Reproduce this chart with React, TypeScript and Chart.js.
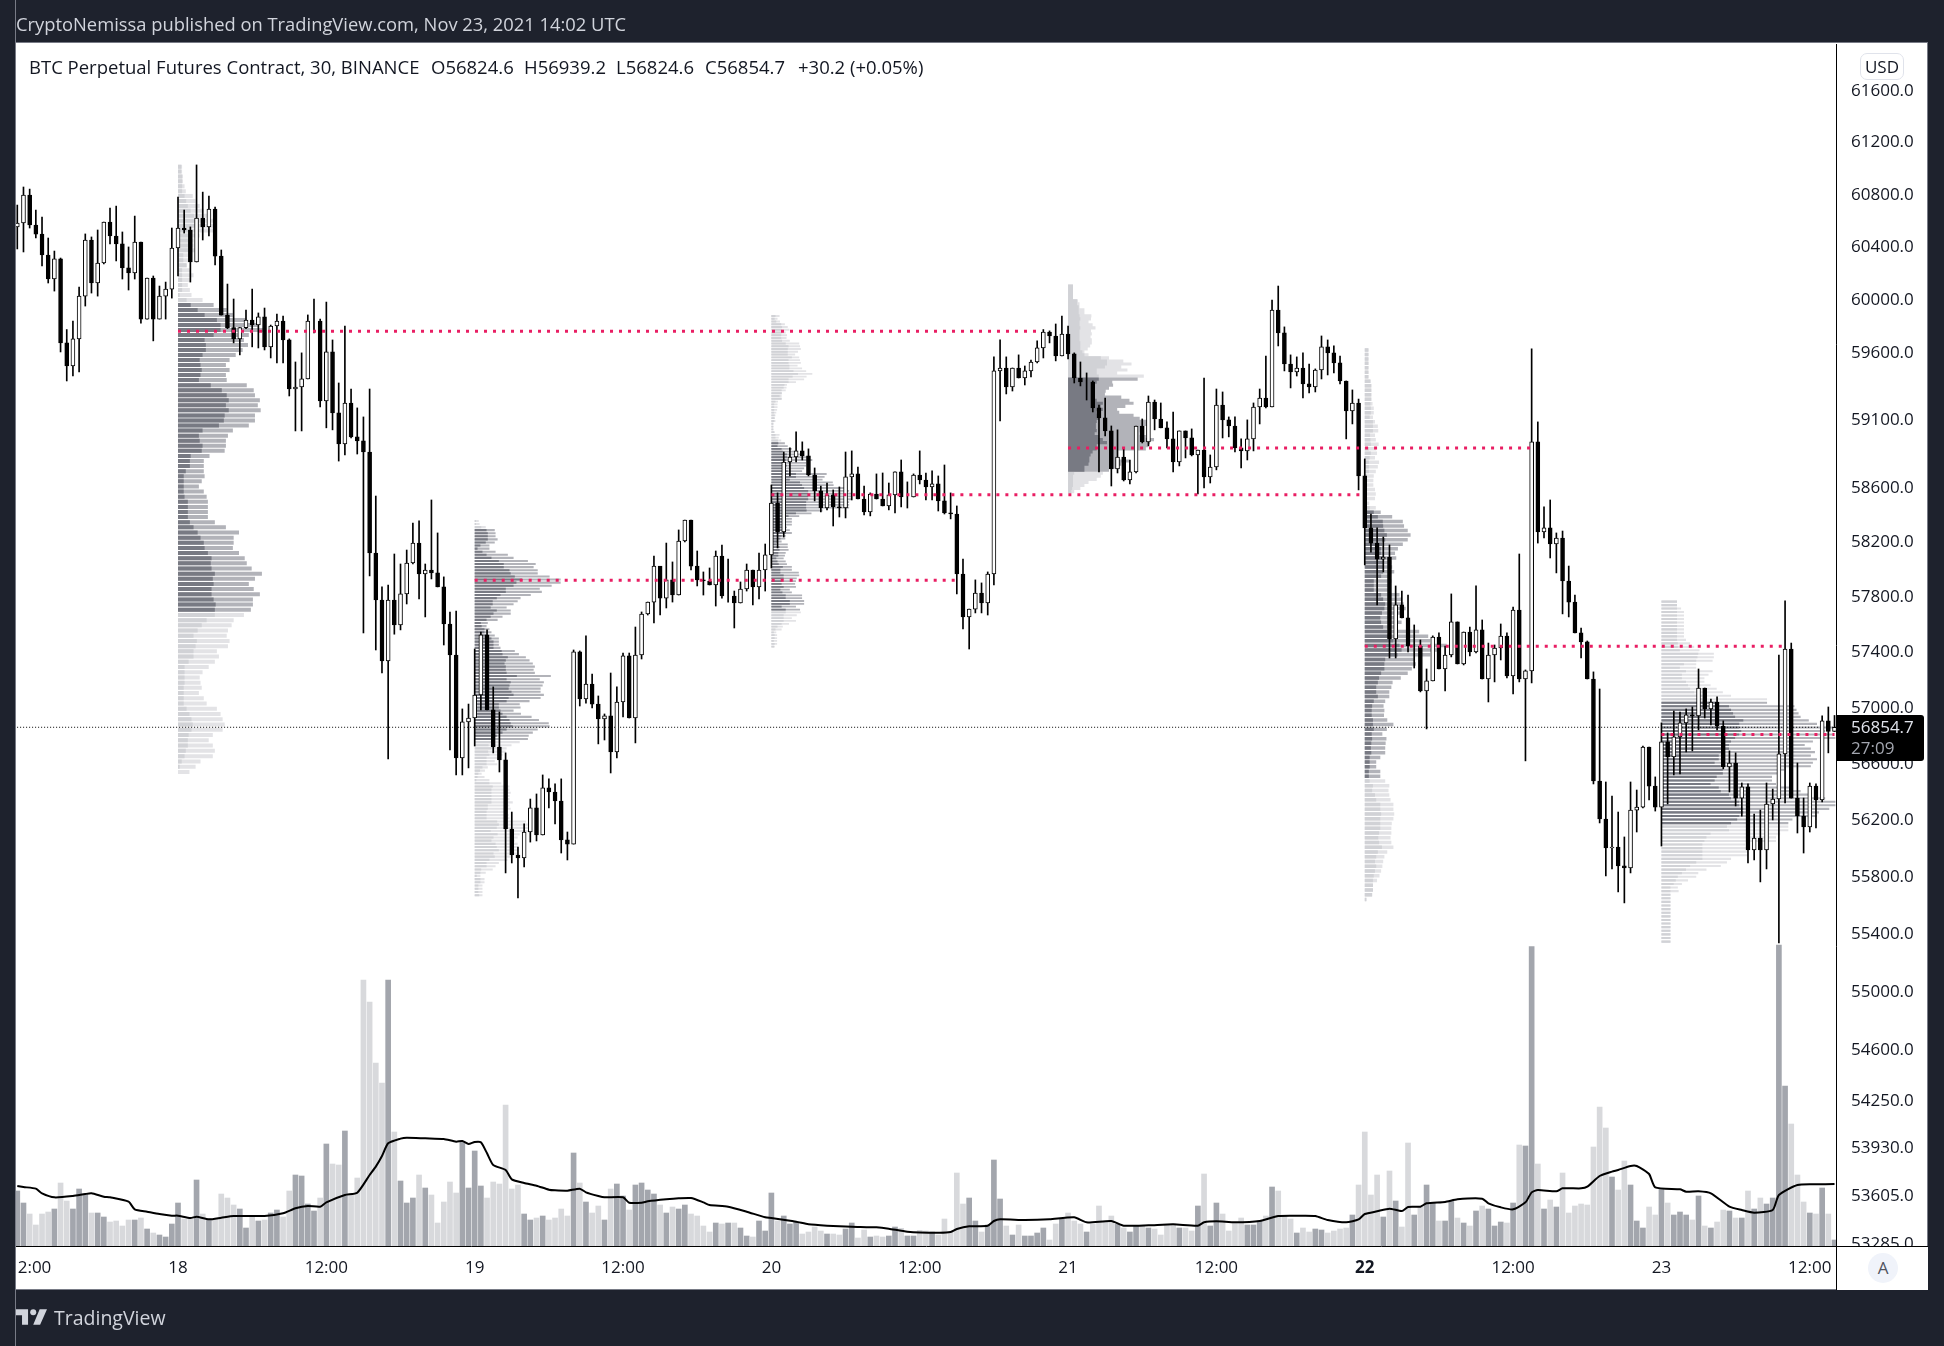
import React, { useEffect, useRef } from "react";
import { Chart, registerables } from "chart.js";
Chart.register(...registerables);

const FONT = '"Open Sans", sans-serif';

// bar index 0 is Nov 17 11:00 UTC, one bar every 30 minutes
const firstOpen = 60546;
const closes = [
60576,60789,60561,60492,60333,60151,60303,59670,59497,59700,
60022,60447,60121,60272,60584,60477,60417,60235,60197,60432,
59849,60159,59849,60022,60075,60386,60538,60523,60280,60614,
60546,60683,60325,59879,59785,59700,59785,59842,59804,59865,
59640,59797,59834,59692,59325,59340,59400,59834,59834,59236,
59602,59147,58917,59221,58969,58939,58857,58114,57772,57331,
57772,57591,57816,58041,58187,57961,57990,57969,57867,57598,
57374,56636,56893,56921,57086,57519,56979,56714,56622,56132,
55949,55928,56111,56281,56090,56423,56394,56330,56055,56026,
57396,57057,57165,57021,56914,56936,56679,57036,57367,56921,
57374,57670,57757,58019,57786,57918,57808,58202,58356,58019,
57918,57910,57881,58092,57801,57801,57750,57852,57990,57867,
57990,58100,58481,58268,58783,58820,58865,58828,58687,58570,
58444,58540,58452,58444,58673,58695,58510,58415,58547,58510,
58459,58540,58710,58525,58525,58687,58650,58599,58621,58496,
58408,58400,57961,57649,57706,57823,57750,57961,59460,59482,
59340,59482,59407,59460,59527,59632,59752,59722,59572,59737,
59587,59407,59377,59377,59184,59110,59013,58732,58820,58650,
58710,59050,58932,59228,59102,59036,58954,58783,59013,58961,
58835,58872,58673,58746,59206,59095,59050,58887,58865,58954,
59191,59258,59191,59917,59745,59512,59452,59482,59363,59340,
59467,59640,59595,59520,59385,59161,59221,58680,58298,58187,
58070,58085,57490,57736,57642,57439,57439,57115,57187,57504,
57273,57374,57613,57309,57540,57396,57555,57201,57374,57424,
57511,57223,57699,57201,57259,58932,58268,58298,58180,58224,
57910,57757,57533,57468,57201,56472,56203,55998,56005,55872,
55858,56266,56287,56714,56436,56287,56750,56643,56786,56886,
56943,56936,57136,56986,57036,56864,56572,56600,56351,56430,
55984,56069,55984,56309,56344,56665,57417,56351,56224,56147,
56436,56337,56900,56824.6,56854.7];
const highs = [
60713,60851,60835,60675,60622,60462,60363,60310,59770,59834,
60091,60493,60470,60523,60584,60690,60705,60508,60394,60629,
60432,60159,60174,60098,60128,60538,60774,60675,60546,61020,
60812,60782,60698,60371,60113,60000,59785,59917,60075,59895,
59932,59804,59887,59872,59700,59527,59595,59880,60000,59849,
59977,59692,59370,59797,59325,59184,59117,59325,58532,57867,
57881,58107,58034,58136,58334,58349,58034,58503,58261,57940,
57685,57692,56986,57021,57417,57540,57555,57144,56964,56672,
56252,56005,56168,56344,56380,56515,56487,56451,56487,56111,
57410,57403,57512,57237,57079,56950,57244,57144,57388,57388,
57576,57685,57757,58092,58005,58187,58049,58283,58356,58356,
58129,57976,58005,58129,58173,58070,57837,57903,58034,57990,
58114,58180,58613,58555,58857,58887,59006,58932,58880,58739,
58606,58628,58577,58599,58857,58865,58746,58606,58555,58695,
58702,58628,58710,58798,58636,58695,58865,58702,58717,58680,
58761,58555,58459,58070,57706,57918,57896,57976,59565,59692,
59565,59482,59580,59497,59542,59685,59770,59760,59812,59872,
59797,59595,59527,59445,59385,59206,59258,59050,59021,58880,
58798,59050,59102,59273,59243,59221,59080,59154,59013,59013,
59028,58872,59407,58835,59325,59303,59117,59117,58954,59095,
59221,59325,59572,59992,60098,59790,59580,59565,59595,59512,
59475,59722,59692,59647,59572,59385,59318,59250,58806,58400,
58298,58231,58173,57874,57837,57808,57591,57482,57273,57512,
57533,57439,57816,57613,57540,57576,57874,57627,57460,57446,
57598,57533,57721,58107,57266,59625,59080,58452,58503,58261,
58275,58019,57808,57569,57475,57252,57129,56465,56365,56252,
56076,56465,56408,56721,56714,56501,56886,56814,56971,56964,
56986,57000,57273,57136,57057,57072,56900,56686,56672,56458,
56451,56238,56266,56458,56415,57374,57765,57460,56600,56351,
56458,56451,56936,57000,56939.2];
const lows = [
60379,60356,60538,60462,60250,60121,60060,59602,59385,59422,
59452,59947,60045,60022,60265,60417,60288,60151,60068,60151,
59819,59849,59685,59849,59849,60007,60174,60500,60128,60280,
60447,60477,60257,59879,59777,59670,59580,59777,59640,59632,
59617,59557,59520,59520,59273,59013,59013,59400,59745,59191,
59036,59021,58790,58835,58961,58842,57533,57947,57410,57244,
56629,57524,57555,57743,58034,57779,57649,57925,57867,57446,
56693,56515,56515,56565,56721,56979,56979,56672,56536,55823,
55893,55648,55865,56040,56048,56090,56281,56168,55963,55914,
56026,57007,57028,56993,56736,56764,56529,56636,56929,56921,
56743,57345,57663,57605,57663,57714,57757,57808,58195,57990,
57874,57808,57881,57728,57786,57757,57569,57750,57837,57736,
57779,57837,58005,58151,58231,58680,58783,58798,58680,58496,
58415,58430,58312,58378,58371,58503,58510,58393,58386,58510,
58459,58430,58408,58452,58444,58525,58621,58503,58503,58422,
58400,58364,57816,57562,57417,57678,57678,57663,57881,59087,
59288,59310,59407,59355,59415,59520,59557,59670,59535,59572,
59550,59370,59348,59243,59154,58710,58976,58606,58702,58643,
58621,58702,58924,58902,59021,59036,58887,58710,58754,58813,
58828,58547,58592,58628,58725,58961,58969,58857,58739,58798,
58865,59065,59184,59191,59647,59460,59333,59422,59258,59295,
59303,59400,59430,59445,59363,58954,59065,58577,58027,58121,
57736,57976,57352,57352,57642,57396,57280,57108,56843,57187,
57273,57115,57360,57309,57302,57367,57388,57201,57036,57180,
57338,57208,57093,57180,56615,57173,58187,58224,58078,57969,
57671,57649,57533,57352,57201,56451,56175,55802,55851,55690,
55613,55823,56111,56281,56337,56259,56012,56309,56515,56522,
56679,56686,56836,56921,56871,56836,56558,56394,56295,56223,
55893,55914,55760,55851,56196,55334,56316,56351,56104,55963,
56111,56139,56323,56672,56824.6];
const volumes = [
165,129,96,63,96,102,111,189,135,111,
171,156,99,99,87,72,75,60,78,78,
84,51,39,33,27,66,129,81,81,198,
96,81,81,156,144,123,111,54,90,75,
78,99,108,87,165,213,210,126,105,144,
306,246,243,345,153,204,798,732,549,489,
798,342,195,129,144,213,174,153,69,132,
192,159,312,174,285,180,144,192,186,423,
171,183,96,78,84,90,78,84,111,90,
279,189,132,99,120,78,171,186,150,108,
183,189,168,156,123,99,117,111,123,96,
90,60,42,69,66,69,69,54,30,27,
75,45,159,75,90,66,72,36,42,57,
45,36,36,33,51,69,24,48,27,30,
27,30,57,53,30,30,47,45,42,33,
81,42,219,126,144,75,42,63,258,141,
60,33,63,30,30,39,54,18,66,81,
99,75,66,42,66,120,72,90,66,54,
42,60,63,54,51,33,63,66,54,54,
45,120,216,60,129,96,45,69,84,63,
63,75,90,177,165,90,81,39,54,42,
51,48,39,45,51,54,93,183,342,153,
213,87,225,135,57,309,93,118,183,128,
75,75,135,84,69,60,105,120,111,60,
72,69,129,303,300,898,246,111,138,117,
219,99,120,126,123,297,417,354,207,168,
255,183,75,54,117,93,171,129,93,102,
93,78,150,60,54,72,108,105,84,84,
165,111,144,126,144,903,480,366,213,132,
99,96,174,96,18];
const maBars = [0,1,3,4,6,9,11,12,14,15,18,19,21,23,25,26,28,29,31,33,35,40,43,45,47,49,50,53,55,57,58,59,60,62,63,66,69,71,72,73,74,75,76,77,79,80,82,84,86,87,89,91,92,94,95,98,99,101,102,
105,107,109,111,112,115,118,121,122,126,128,131,135,139,141,144,149,151,152,154,157,158,159,163,167,171,173,177,179,183,187,191,192,194,197,201,204,207,
208,210,212,215,217,218,220,222,224,225,227,228,231,233,237,238,240,242,244,245,246,249,250,253,254,256,258,259,261,262,264,265,269,270,272,274,277,279,281,284,285,288,291,294];
const maValues = [180,177,172,158,146,150,156,158,148,146,133,110,103,96,91,91,84,88,80,85,90,90,98,113,120,118,131,153,160,213,238,270,308,322,325,323,321,313,315,306,312,311,278,243,228,200,189,181,169,167,166,172,161,150,146,146,130,130,134,
140,143,144,131,123,118,103,86,84,73,65,61,58,56,52,43,40,42,51,59,61,75,80,78,80,86,71,75,61,62,65,61,71,74,71,75,90,91,
91,90,78,71,80,96,104,112,105,117,118,128,132,140,142,128,116,110,131,161,168,164,173,173,178,210,223,228,240,240,216,176,170,163,164,158,118,108,100,108,153,183,185,186];

const xTickBars = [2,26,50,74,98,122,146,170,194,218,242,266,290];
const xTickLabels = ["12:00","18","12:00","19","12:00","20","12:00","21","12:00","22","12:00","23","12:00"];
const boldTickLabel = "22";
const priceTicks = [61600,61200,60800,60400,60000,59600,59100,58600,58200,57800,57400,57000,56600,56200,55800,55400,55000,54600,54250,53930,53605,53285];

const pocStart = [26,74,122,170,218,266];
const pocEnd = [165,152,218,245,286,294];
const pocPrice = [59758,57916,58541,58887,57436,56803];
const lastPrice = 56854.7;

const p18Inner = [8,8,10,10,10,10,16,20,24,31,39,39,39,33,28,26,26,26,13,13,21,10,10,10,10,10,4,
21,31,48,65,95,104,104,87,65,68,68,60,53,55,58,55,51,80,107,119,124,117,124,114,112,100,60,51,
53,60,58,31,29,29,19,14,14,14,14,16,24,24,24,24,29,38,48,55,63,65,73,82,80,82,90,85,87,82,82,87,92,90,
90,70,58,48,38,46,43,38,38,26,16,16,16,16,14,14,14,14,21,28,33,36,33,26,24,24,19,16,9,4,0];
const p18Total = [10,10,12,12,16,19,36,43,53,63,81,88,88,86,53,38,38,41,33,33,21,31,38,30,24,29,33,
60,87,119,134,165,195,213,173,161,171,158,141,126,117,126,117,119,168,185,188,200,195,202,188,188,173,134,122,
117,117,114,77,63,63,63,65,58,51,63,70,73,73,73,73,90,117,149,136,136,134,149,163,168,180,205,188,173,185,200,183,183,178,
161,136,131,122,119,126,122,95,100,90,75,60,53,55,58,51,63,70,95,104,109,114,109,85,75,85,90,85,55,43,28];
const p19Inner = [3,3,16,29,32,32,32,27,14,7,19,29,41,59,71,71,85,88,98,116,102,95,76,76,63,54,44,44,39,54,46,39,29,15,17,24,24,29,41,46,46,46,66,68,81,76,73,76,76,78,103,78,88,85,83,90,95,83,78,59,59,63,68,78,85,88,93,78,68,54,49,41,34,41,33,36,29,29,29,19,13,9,7,4,36,44,41,41,41,41,41,32,32,29,29,29,55,59,54,39,56,46,41,51,54,59,46,49,36,29,29,16,14,5,14,14,9,9,9,11];
const p19Total = [10,12,27,49,51,51,56,49,36,36,51,81,95,130,149,144,154,154,183,210,210,188,159,164,137,112,105,95,78,88,88,68,56,32,29,36,41,49,59,59,59,63,98,108,125,134,142,147,144,147,186,159,169,166,161,161,169,161,134,110,112,95,113,139,157,181,183,154,142,132,130,110,90,78,76,68,58,49,55,32,25,17,24,36,65,85,85,88,85,85,93,85,88,80,83,85,125,130,132,132,110,105,98,105,105,108,105,88,80,59,51,44,27,14,24,24,19,19,19,19];
const p20Inner = [10,8,12,24,26,25,25,24,24,26,35,42,40,40,40,50,42,42,44,44,54,65,52,42,42,32,30,25,25,20,25,10,7,7,7,7,8,8,7,4,4,4,7,10,10,16,
17,15,25,28,38,38,35,35,38,30,40,60,60,45,70,75,80,90,90,90,90,85,85,85,86,60,42,35,30,30,28,30,35,25,22,15,12,20,20,17,17,12,15,18,28,22,22,30,30,25,25,30,22,27,35,35,45,45,25,35,35,
30,30,30,25,15,10,6,8,8,6,8,7];
const p20Total = [20,15,21,33,40,44,35,38,37,45,68,70,72,65,58,68,70,72,64,75,85,100,86,80,60,38,37,35,26,25,25,16,15,15,14,12,10,8,10,6,6,6,8,20,18,24,
33,40,50,55,75,95,100,85,85,80,75,135,130,125,150,152,180,190,195,195,195,190,190,190,125,98,68,50,50,50,38,45,50,35,34,25,40,40,42,35,33,30,35,38,50,50,67,68,62,60,58,60,45,50,75,75,80,80,60,70,72,
62,50,60,43,28,25,12,14,14,14,14,8];
const p21Inner = [12,12,12,12,12,22,22,26,26,26,28,30,28,28,30,28,28,28,28,30,30,30,35,40,80,95,95,90,70,70,
75,75,70,60,60,60,60,60,70,85,80,85,70,75,75,70,68,68,70,65,75,85,95,70,70,60,55,52,52,50,40,40,
15,12,12,12,12,10,8];
const p21Total = [12,12,12,12,12,24,28,28,40,40,57,56,50,60,67,56,58,55,58,58,54,48,40,50,100,135,155,130,145,120,
185,170,108,110,100,92,90,130,150,160,140,120,125,160,175,195,195,180,180,175,190,210,200,195,190,120,120,120,150,130,120,100,
85,80,70,50,40,30,15];
const p22Inner = [9,9,9,9,9,9,9,14,16,16,16,16,14,15,15,12,20,20,20,13,14,15,10,15,12,10,10,10,5,5,5,5,5,5,5,
12,22,32,44,45,48,54,50,42,40,40,45,45,45,45,40,22,22,22,40,45,50,48,42,38,40,45,55,60,70,85,90,80,50,48,48,40,35,
32,28,28,32,22,18,17,17,20,20,22,17,18,16,15,16,12,12,12,10,10,
12,20,18,25,28,38,38,40,38,38,38,35,33,35,42,32,28,25,28,25,22,20,20,20,18,4];
const p22Total = [9,9,9,9,9,9,9,14,16,16,16,16,19,22,22,20,25,32,33,25,27,34,28,30,25,35,32,27,22,21,21,25,27,25,11,
27,39,67,93,96,105,112,105,93,81,74,77,65,67,72,60,65,60,60,85,90,95,100,95,80,90,80,133,155,160,200,185,160,120,125,115,105,88,
68,65,60,60,50,46,48,47,55,70,54,43,53,51,50,50,38,28,28,38,38,
50,60,58,60,63,70,70,72,70,66,65,65,63,65,70,55,48,45,43,40,36,30,20,20,18,4];
const p23Inner = [38,38,38,38,38,38,38,38,38,38,38,38,40,40,45,90,88,85,55,45,60,50,50,60,65,70,80,100,
100,135,165,170,175,180,200,190,190,195,190,180,170,165,165,150,140,140,130,145,150,150,135,130,120,140,145,165,170,190,190,200,200,190,185,170,160,165,
120,110,105,100,100,100,100,100,85,70,60,50,40,35,30,22,22,22,22,22,22,22,22,22,22,22,22,22,22,22,22];
const p23Total = [38,38,48,55,55,55,55,55,55,55,55,60,70,80,93,128,128,125,85,85,125,115,105,105,120,135,150,170,
258,258,325,330,335,340,360,380,420,400,420,425,370,350,365,375,365,380,370,365,300,290,270,270,280,320,340,360,400,425,425,410,385,380,320,310,310,310,
290,280,280,205,210,210,210,170,160,145,110,90,85,65,50,40,42,22,22,22,22,22,22,22,22,22,22,22,22,22,22];

const profileBars = [26,74,122,170,218,266];
const profileTop = [61007,58349,59872,60098,59617,57760];
const profileBottom = [56536,55667,57434,58565,55636,55343];
const valueAreaHigh = [59992,58283,58939,59415,58444,57038];
const valueAreaLow = [57700,56750,57692,58702,56489,56160];
const profileInner = [p18Inner,p19Inner,p20Inner,p21Inner,p22Inner,p23Inner];
const profileTotal = [p18Total,p19Total,p20Total,p21Total,p22Total,p23Total];
const profileRowWidth = [4,2.1,1.8,3.2,3.5,2.1];
const VOLUME_PER_BAR = 15.1;

const opens = closes.map((_, i) => (i === 0 ? firstOpen : closes[i - 1]));

function profileDatasets() {
  const out: any[] = [];
  profileBars.forEach((bar, p) => {
    const n = Math.min(profileInner[p].length, profileTotal[p].length);
    const step = (profileTop[p] - profileBottom[p]) / (n - 1);
    const groups: any[][] = [[], [], [], []];
    for (let k = 0; k < n; k++) {
      const price = profileTop[p] - k * step;
      const inVA = price <= valueAreaHigh[p] && price >= valueAreaLow[p];
      const a = inVA ? 0 : 2;
      const pushRow = (g: any[], len: number) => {
        g.push({ x: bar, y: price }, { x: bar + len / VOLUME_PER_BAR, y: price }, { x: bar, y: null });
      };
      pushRow(groups[a], profileTotal[p][k]);
      pushRow(groups[a + 1], profileInner[p][k]);
    }
    const colors = ["#b2b3b9", "#787a83", "#e3e3e6", "#d1d2d6"];
    const orders = [9.2, 9.1, 9.2, 9.1];
    groups.forEach((g, gi) => {
      out.push({
        type: "line", data: g, yAxisID: "y", xAxisID: "x", borderColor: colors[gi],
        borderWidth: profileRowWidth[p], pointRadius: 0, spanGaps: false, tension: 0,
        borderCapStyle: "butt", order: orders[gi],
      });
    });
  });
  return out;
}

export default function App() {
  const ref = useRef<HTMLCanvasElement>(null);
  useEffect(() => {
    const bars = closes.map((_, i) => i);
    const up = closes.map((c, i) => c >= opens[i]);
    const chart = new Chart(ref.current!, {
      type: "bar",
      data: {
        datasets: [
          {
            type: "bar", label: "Volume", yAxisID: "yVol", xAxisID: "x", order: 10, grouped: false, barThickness: 5,
            data: bars.map((i) => ({ x: i, y: volumes[i] })),
            backgroundColor: bars.map((i) => (up[i] ? "#a3a6ad" : "#d8d9dc")),
          },
          ...profileDatasets(),
          {
            type: "bar", label: "Wick", yAxisID: "y", xAxisID: "x", order: 5, grouped: false, barThickness: 1,
            data: bars.map((i) => ({ x: i, y: [lows[i], highs[i]] })), backgroundColor: "#000",
          },
          {
            type: "bar", label: "Body", yAxisID: "y", xAxisID: "x", order: 4, grouped: false, barThickness: 4,
            data: bars.map((i) => ({ x: i, y: [opens[i], closes[i]] })),
            backgroundColor: bars.map((i) => (up[i] ? "#fff" : "#000")), borderColor: "#000", borderWidth: 1, borderSkipped: false,
          },
          {
            type: "line", label: "Last", yAxisID: "y", xAxisID: "x", order: 6,
            data: [{ x: -1, y: lastPrice }, { x: 295, y: lastPrice }],
            borderColor: "#000", borderWidth: 1, borderDash: [1, 2], pointRadius: 0,
          },
          ...pocPrice.map((price, k) => ({
            type: "line", label: "POC", yAxisID: "y", xAxisID: "x", order: 3,
            data: [{ x: pocStart[k], y: price }, { x: pocEnd[k], y: price }],
            borderColor: "#e91e63", borderWidth: 3, borderDash: [3, 6], pointRadius: 0,
          })),
          {
            type: "line", label: "Volume MA", yAxisID: "yVol", xAxisID: "x", order: 2,
            data: maBars.map((b, k) => ({ x: b, y: maValues[k] })),
            borderColor: "#000", borderWidth: 2, pointRadius: 0, tension: 0.2,
          },
        ] as any,
      },
      options: {
        responsive: false, animation: false,
        layout: { padding: { left: 16, top: 44, right: 16, bottom: 57 } },
        plugins: { legend: { display: false }, tooltip: { enabled: false } },
        scales: {
          x: {
            type: "linear", min: -0.21, max: 294.24, offset: false, bounds: "data",
            grid: { display: false, drawTicks: false }, border: { display: true, color: "#000", width: 1 },
            afterBuildTicks: (s: any) => { s.ticks = xTickBars.map((v) => ({ value: v })); },
            afterFit: (s: any) => { s.height = 43; s.paddingLeft = 0; s.paddingRight = 0; },
            ticks: {
              autoSkip: false, maxRotation: 0, minRotation: 0, padding: 12, color: "#131722",
              callback: (v: any) => xTickLabels[xTickBars.indexOf(v)],
              font: (c: any) => ({
                family: FONT, size: 17,
                weight: xTickLabels[xTickBars.indexOf(c.tick?.value)] === boldTickLabel ? "bold" : "normal",
              }),
            },
          },
          y: {
            type: "logarithmic", position: "right", min: 53265, max: 61955, bounds: "data",
            grid: { display: false, drawTicks: false }, border: { display: true, color: "#000", width: 1 },
            afterBuildTicks: (s: any) => { s.ticks = priceTicks.map((v) => ({ value: v })); },
            afterFit: (s: any) => { s.width = 92; s.paddingTop = 0; s.paddingBottom = 0; },
            ticks: {
              autoSkip: false, padding: 15, crossAlign: "near", color: "#131722", labelOffset: 1,
              font: { family: FONT, size: 17 },
              callback: (v: any) => Number(v).toFixed(1),
            },
          },
          yVol: { type: "linear", display: false, min: 0, max: 3606, position: "left" },
        },
      } as any,
    });
    return () => chart.destroy();
  }, []);

  const dark = "#1e222d";
  const abs = (l: number, t: number, s: any = {}): any => ({ position: "absolute", left: l, top: t, whiteSpace: "nowrap", ...s });
  const legend = { fontFamily: FONT, fontSize: 18.5, color: "#131722", lineHeight: "24px" };
  return (
    <div style={{ position: "fixed", left: 0, top: 0, width: 1944, height: 1346, background: dark, overflow: "hidden" }}>
      <div style={abs(15, 43, { width: 1912, height: 1246, background: "#fff", outline: "1px solid #787b86" })} />
      <canvas ref={ref} width={1944} height={1346} style={{ position: "absolute", left: 0, top: 0, width: 1944, height: 1346 }} />
      <div style={abs(0, 0, { width: 15, height: 1346, background: dark, borderRight: "1px solid #787b86" })} />
      <div style={abs(16, 12, { fontFamily: FONT, fontSize: 18.35, color: "#d1d4dc", lineHeight: "24px" })}>
        CryptoNemissa published on TradingView.com, Nov 23, 2021 14:02 UTC
      </div>
      <div style={abs(29, 55, legend)}>BTC Perpetual Futures Contract, 30, BINANCE</div>
      <div style={abs(431, 55, legend)}>O56824.6</div>
      <div style={abs(524, 55, legend)}>H56939.2</div>
      <div style={abs(616, 55, legend)}>L56824.6</div>
      <div style={abs(705, 55, legend)}>C56854.7</div>
      <div style={abs(798, 55, legend)}>+30.2 (+0.05%)</div>
      <div style={abs(1860, 53, { width: 42, height: 25, border: "1px solid #e0e3eb", borderRadius: 7, background: "#fff", textAlign: "center", fontFamily: FONT, fontSize: 17, lineHeight: "25px", color: "#131722" })}>USD</div>
      <div style={abs(1836, 715, { width: 88, height: 46, background: "#000", borderRadius: "0 3px 3px 0", fontFamily: FONT, fontSize: 17 })}>
        <div style={abs(15, 0, { color: "#e0e3eb", lineHeight: "24px" })}>56854.7</div>
        <div style={abs(15, 21, { color: "#a3a6af", lineHeight: "24px" })}>27:09</div>
      </div>
      <div style={abs(1836, 1246, { width: 91, height: 43, background: "#fff", borderLeft: "1px solid #000", borderTop: "1px solid #000" })}>
        <div style={abs(31, 6, { width: 30, height: 30, borderRadius: 15, background: "#f0f3fa", textAlign: "center", lineHeight: "30px", fontFamily: FONT, fontSize: 17, color: "#50535e" })}>A</div>
      </div>
      <svg style={abs(16, 1309)} width={31} height={16} viewBox="0 0 36 18">
        <path d="M14 18H7V7H0V0h14z M28 18h-8l7.5-18H36z" fill="#d1d4dc" />
        <circle cx="20" cy="3.5" r="3.5" fill="#d1d4dc" />
      </svg>
      <div style={abs(54, 1305, { fontFamily: FONT, fontSize: 19.5, color: "#d1d4dc", lineHeight: "26px" })}>TradingView</div>
    </div>
  );
}
